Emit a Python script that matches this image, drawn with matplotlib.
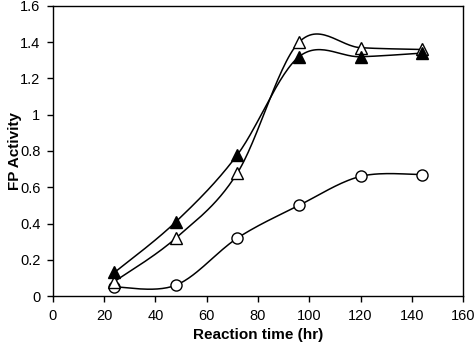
import matplotlib

matplotlib.use("Agg")
import matplotlib.pyplot as plt
import numpy as np

plt.rcParams["font.family"] = ["Liberation Sans", "DejaVu Sans"]

hours = [24, 48, 72, 96, 120, 144]
filled_tri = [0.13, 0.41, 0.78, 1.32, 1.32, 1.34]
open_tri = [0.08, 0.32, 0.68, 1.40, 1.37, 1.36]
open_circ = [0.05, 0.06, 0.32, 0.50, 0.66, 0.67]

X_MAX, Y_MAX = 160, 1.6


def smooth(ax, xs, ys, n=30):
    # Excel-style smoothed line: cubic Bezier with control points at 1/6 of neighbour span,
    # computed in display space so the curve looks like the original
    pts = ax.transData.transform(np.column_stack([xs, ys]))
    m = len(pts)
    out = [pts[0]]
    for i in range(m - 1):
        p0 = pts[max(i - 1, 0)]
        p1 = pts[i]
        p2 = pts[i + 1]
        p3 = pts[min(i + 2, m - 1)]
        c1 = p1 + (p2 - p0) / 6
        c2 = p2 - (p3 - p1) / 6
        t = np.linspace(0, 1, n)[1:, None]
        seg = (1 - t) ** 3 * p1 + 3 * (1 - t) ** 2 * t * c1 + 3 * (1 - t) * t ** 2 * c2 + t ** 3 * p2
        out.extend(seg)
    out = np.array(out)
    return ax.transData.inverted().transform(out).T


fig = plt.figure(figsize=(4.74, 3.48), dpi=100)
ax = fig.add_axes([0.1118, 0.1494, 0.865, 0.8334])
ax.set_xlim(0, X_MAX)
ax.set_ylim(0, Y_MAX)

for ys, marker, face in [
    (open_circ, "o", "white"),
    (open_tri, "^", "white"),
    (filled_tri, "^", "black"),
]:
    sx, sy = smooth(ax, hours, ys)
    ax.plot(sx, sy, color="black", linewidth=1.1, zorder=2)
    ax.plot(hours, ys, linestyle="none", marker=marker, markersize=8,
            markerfacecolor=face, markeredgecolor="black", markeredgewidth=1.0, zorder=3)

ax.set_xticks(range(0, 161, 20))
ax.set_yticks(np.arange(0, 1.61, 0.2))
ax.set_yticklabels(["0", "0.2", "0.4", "0.6", "0.8", "1", "1.2", "1.4", "1.6"])
ax.tick_params(direction="out", length=4, width=1, labelsize=10.5, top=False, right=False, pad=5)
for s in ax.spines.values():
    s.set_linewidth(1.0)

ax.set_xlabel("Reaction time (hr)", fontsize=11, fontweight="bold")
ax.set_ylabel("FP Activity", fontsize=11, fontweight="bold")
ax.xaxis.set_label_coords(0.5, -0.112)
ax.yaxis.set_label_coords(-0.076, 0.5)

plt.savefig("out.png", dpi=100)
plt.close()
